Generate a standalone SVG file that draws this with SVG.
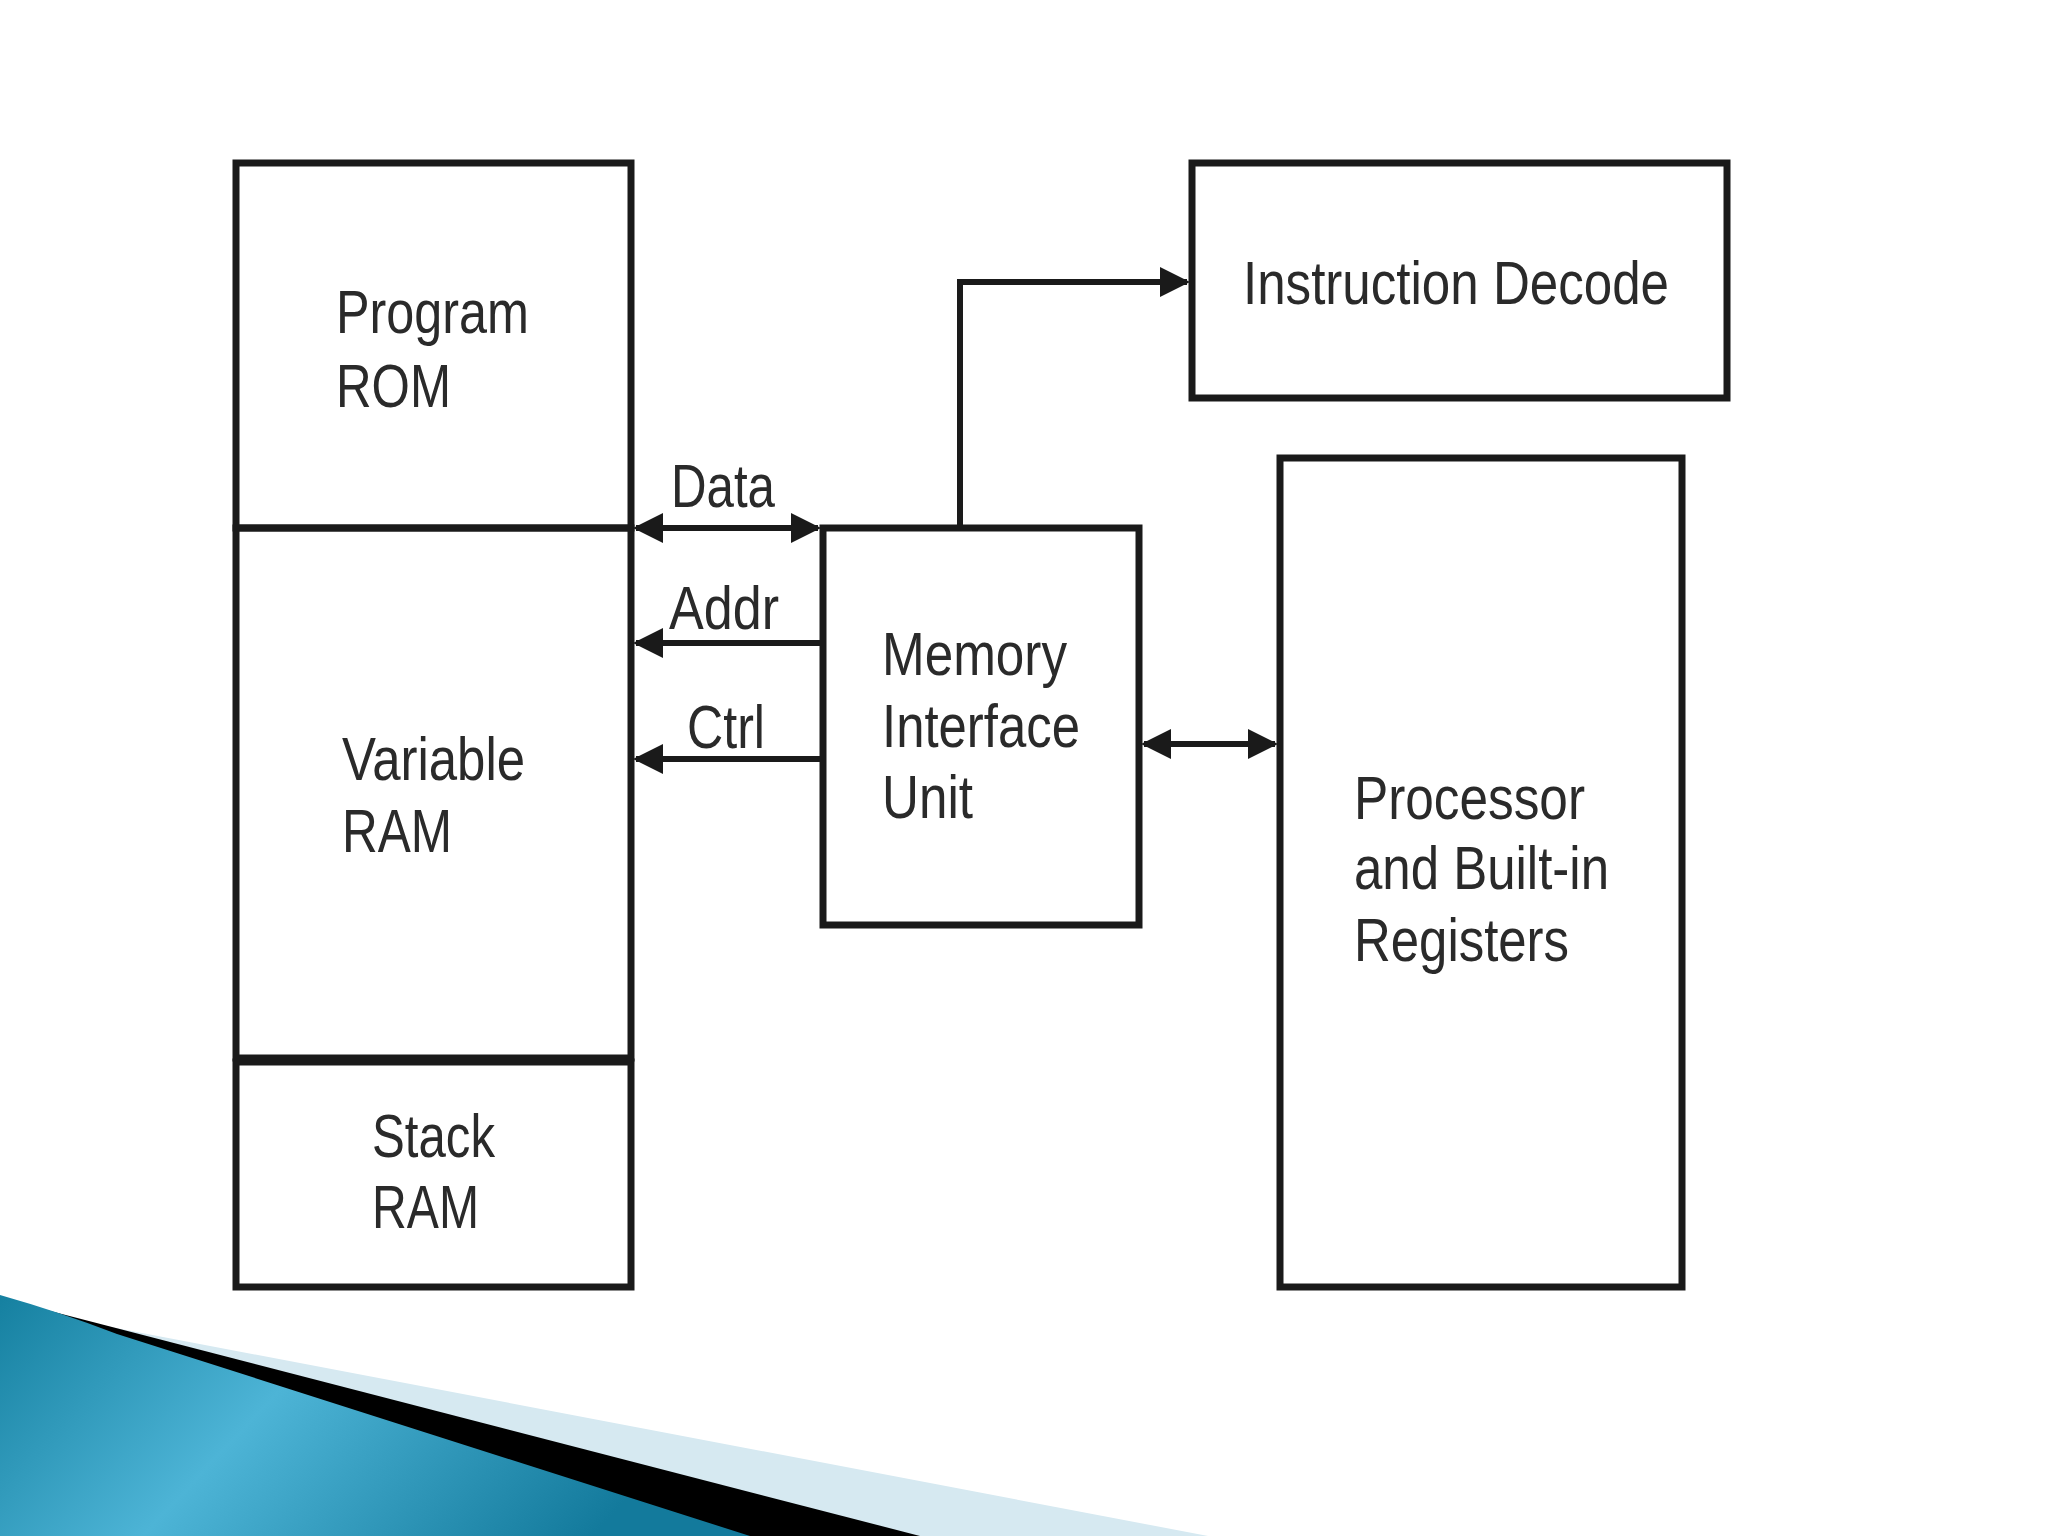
<svg xmlns="http://www.w3.org/2000/svg" width="2048" height="1536" viewBox="0 0 2048 1536">
<style>
.b{fill:none;stroke:#1a1a1a;stroke-width:7}
.c{fill:none;stroke:#1a1a1a;stroke-width:6}
text{font-family:"Liberation Sans",Arial,sans-serif;font-size:62px;fill:#2a2a2a}
</style>
<defs>
<marker id="a" viewBox="0 0 10 10" refX="9" refY="5" markerWidth="5" markerHeight="5" orient="auto-start-reverse" markerUnits="strokeWidth"><path d="M0,0L10,5L0,10z" fill="#1a1a1a"/></marker>
<linearGradient id="g" x1="0" y1="0" x2="1" y2="0.3"><stop offset="0" stop-color="#1580a0"/><stop offset="0.45" stop-color="#4db4d6"/><stop offset="1" stop-color="#137a9c"/></linearGradient>
</defs>
<rect width="2048" height="1536" fill="#fff"/>
<g id="swoosh">
<polygon points="100,1325 1208,1536 0,1536" fill="#d6e9f1"/>
<polygon points="0,1298 920,1536 0,1536" fill="#000"/>
<path d="M0,1295 Q60,1312 117,1334 L750,1536 L0,1536Z" fill="url(#g)"/>
</g>
<g id="program-rom"><rect class="b" x="236" y="163" width="395" height="365"/><text x="336" y="333" textLength="193" lengthAdjust="spacingAndGlyphs">Program</text><text x="336" y="407" textLength="115" lengthAdjust="spacingAndGlyphs">ROM</text></g>
<g id="variable-ram"><rect class="b" x="236" y="528" width="395" height="530"/><text x="342" y="780" textLength="183" lengthAdjust="spacingAndGlyphs">Variable</text><text x="342" y="852" textLength="110" lengthAdjust="spacingAndGlyphs">RAM</text></g>
<g id="stack-ram"><rect class="b" x="236" y="1062" width="395" height="225"/><text x="372" y="1157" textLength="123" lengthAdjust="spacingAndGlyphs">Stack</text><text x="372" y="1228" textLength="107" lengthAdjust="spacingAndGlyphs">RAM</text></g>
<g id="instruction-decode"><rect class="b" x="1192" y="163" width="535" height="235"/><text x="1243" y="304" textLength="426" lengthAdjust="spacingAndGlyphs">Instruction Decode</text></g>
<g id="memory-interface"><rect class="b" x="823" y="528" width="316" height="397"/><text x="882" y="675" textLength="185" lengthAdjust="spacingAndGlyphs">Memory</text><text x="882" y="747" textLength="198" lengthAdjust="spacingAndGlyphs">Interface</text><text x="882" y="818" textLength="91" lengthAdjust="spacingAndGlyphs">Unit</text></g>
<g id="processor"><rect class="b" x="1280" y="458" width="402" height="829"/><text x="1354" y="819" textLength="231" lengthAdjust="spacingAndGlyphs">Processor</text><text x="1354" y="889" textLength="255" lengthAdjust="spacingAndGlyphs">and Built-in</text><text x="1354" y="961" textLength="215" lengthAdjust="spacingAndGlyphs">Registers</text></g>
<g id="connectors">
<line class="c" x1="636" y1="528" x2="818" y2="528" marker-start="url(#a)" marker-end="url(#a)"/>
<line class="c" x1="823" y1="643" x2="636" y2="643" marker-end="url(#a)"/>
<line class="c" x1="823" y1="759" x2="636" y2="759" marker-end="url(#a)"/>
<polyline class="c" points="960,528 960,282 1187,282" marker-end="url(#a)"/>
<line class="c" x1="1144" y1="744" x2="1275" y2="744" marker-start="url(#a)" marker-end="url(#a)"/>
<text x="671" y="507" textLength="104" lengthAdjust="spacingAndGlyphs">Data</text>
<text x="669" y="629" textLength="110" lengthAdjust="spacingAndGlyphs">Addr</text>
<text x="687" y="748" textLength="78" lengthAdjust="spacingAndGlyphs">Ctrl</text>
</g>
</svg>
